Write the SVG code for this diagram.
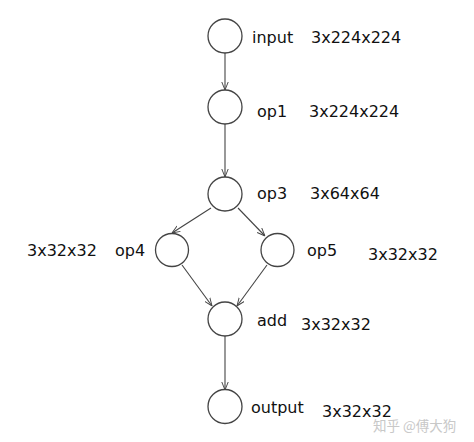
<svg xmlns="http://www.w3.org/2000/svg" width="474" height="442" viewBox="0 0 474 442">
<style>
.n{fill:#fff;stroke:#444;stroke-width:1.3}
.e{stroke:#444;stroke-width:1.1;fill:none;marker-end:url(#a)}
text{font-family:"DejaVu Sans",sans-serif;font-size:16px;fill:#111}
.wm{font-family:"Noto Sans CJK SC","DejaVu Sans",sans-serif;font-size:13.5px;fill:#c8c8c8}
</style>
<defs>
<marker id="a" viewBox="0 0 10 10" refX="10" refY="5" markerWidth="8" markerHeight="8" orient="auto" markerUnits="userSpaceOnUse">
<path d="M0,1 L10,5 L0,9" fill="none" stroke="#444" stroke-width="1.2"/>
</marker>
</defs>
<rect width="474" height="442" fill="#fff"/>
<g id="connectors">
<line class="e" x1="225" y1="53" x2="225" y2="90"/>
<line class="e" x1="225" y1="124" x2="225" y2="177"/>
<line class="e" x1="211" y1="208" x2="172" y2="233"/>
<line class="e" x1="238" y1="208" x2="265" y2="236"/>
<line class="e" x1="182" y1="265" x2="212" y2="306"/>
<line class="e" x1="267" y1="265" x2="237" y2="306"/>
<line class="e" x1="225" y1="336" x2="225" y2="390"/>
</g>
<g id="input"><circle class="n" cx="225" cy="36" r="17"/><text x="252" y="43">input</text><text x="311" y="43">3x224x224</text></g>
<g id="op1"><circle class="n" cx="225" cy="107" r="17"/><text x="257" y="117">op1</text><text x="309" y="117">3x224x224</text></g>
<g id="op3"><circle class="n" cx="225" cy="194" r="17"/><text x="257" y="199">op3</text><text x="310" y="199">3x64x64</text></g>
<g id="op4"><circle class="n" cx="172" cy="250" r="16.5"/><text x="115" y="256">op4</text><text x="27" y="256">3x32x32</text></g>
<g id="op5"><circle class="n" cx="277.5" cy="250" r="16.5"/><text x="307" y="256">op5</text><text x="368" y="260">3x32x32</text></g>
<g id="add"><circle class="n" cx="225" cy="319" r="17"/><text x="257" y="326">add</text><text x="301" y="330">3x32x32</text></g>
<g id="output"><circle class="n" cx="225" cy="406.5" r="17"/><text x="251" y="413">output</text><text x="322" y="417">3x32x32</text></g>
<text class="wm" x="373" y="431">知乎 @傅大狗</text>
</svg>
